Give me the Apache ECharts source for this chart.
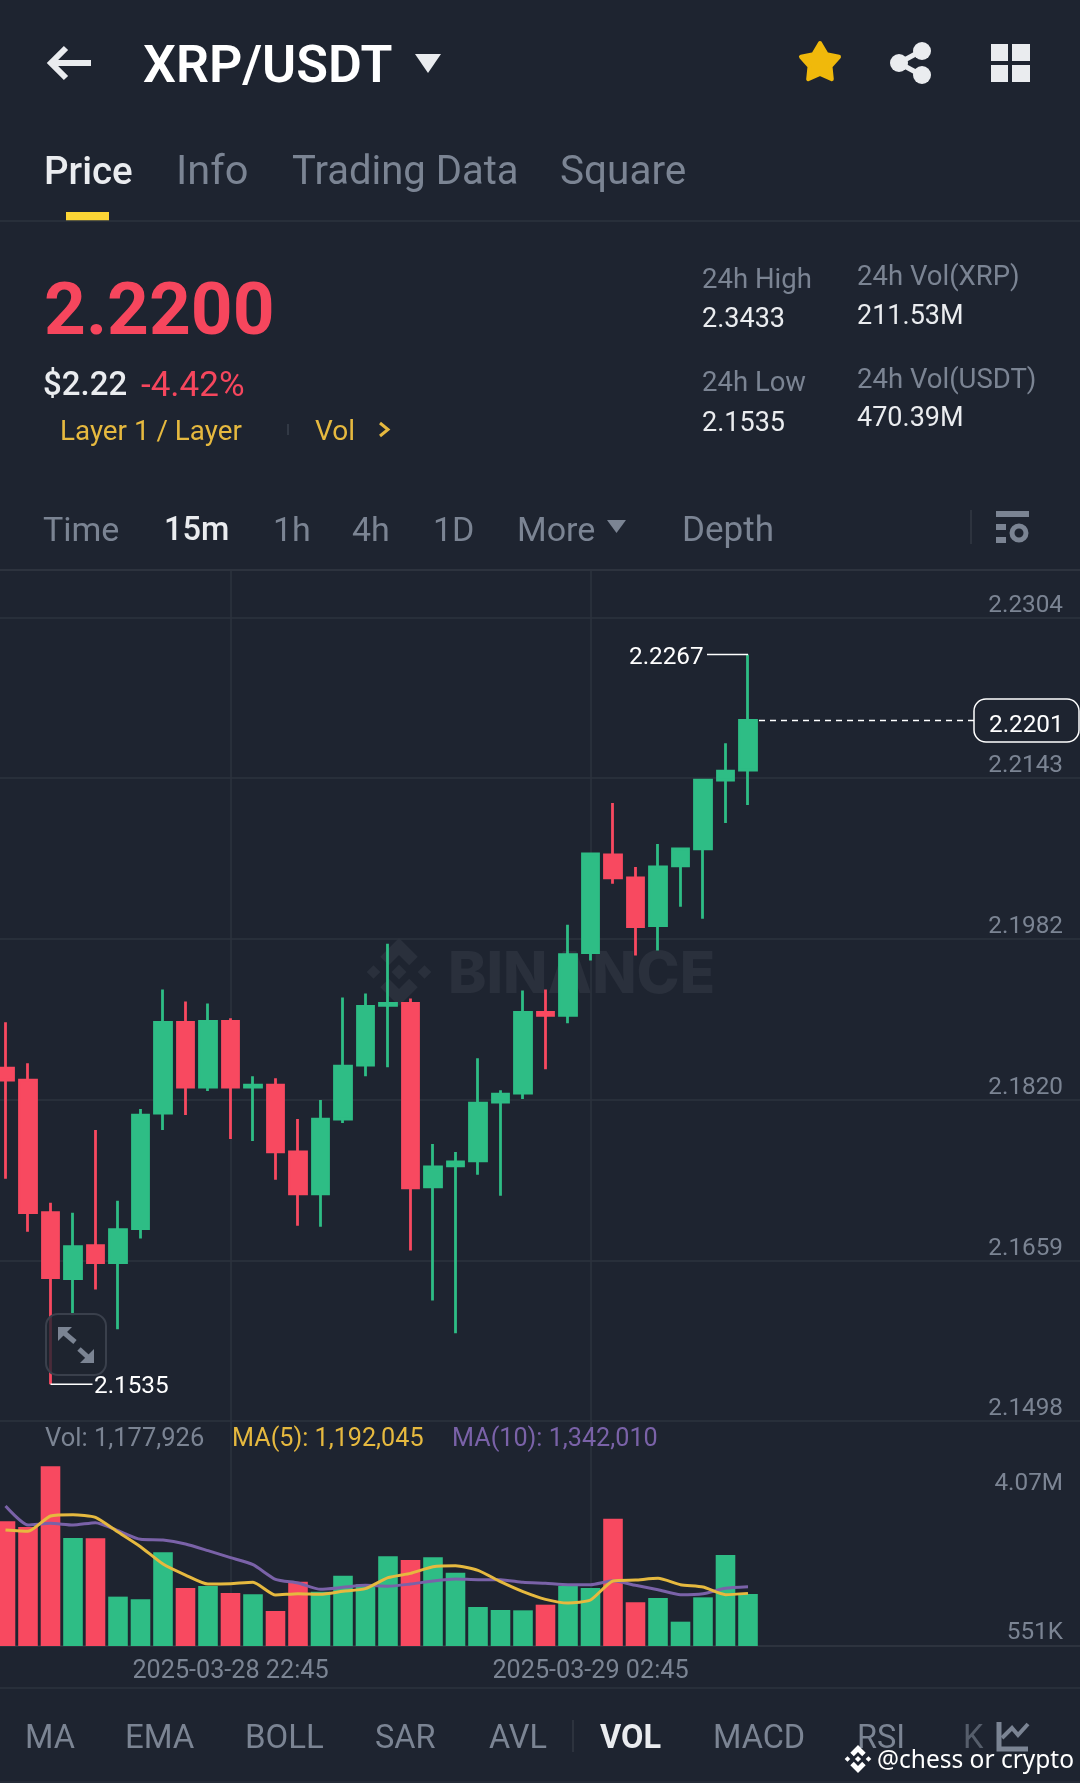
<!DOCTYPE html>
<html>
<head>
<meta charset="utf-8">
<title>XRP/USDT</title>
<script src="https://cdn.jsdelivr.net/npm/echarts@6/dist/echarts.min.js"></script>
<style>
    html, body { margin: 0; padding: 0; background: #1e2430; }
    #main { width: 1080px; height: 1783px; }
</style>
</head>
<body>
<div id="main"></div>
<script>
const times = [
    '2025-03-28 20:15', '2025-03-28 20:30', '2025-03-28 20:45', '2025-03-28 21:00', '2025-03-28 21:15',
    '2025-03-28 21:30', '2025-03-28 21:45', '2025-03-28 22:00', '2025-03-28 22:15', '2025-03-28 22:30',
    '2025-03-28 22:45', '2025-03-28 23:00', '2025-03-28 23:15', '2025-03-28 23:30', '2025-03-28 23:45',
    '2025-03-29 00:00', '2025-03-29 00:15', '2025-03-29 00:30', '2025-03-29 00:45', '2025-03-29 01:00',
    '2025-03-29 01:15', '2025-03-29 01:30', '2025-03-29 01:45', '2025-03-29 02:00', '2025-03-29 02:15',
    '2025-03-29 02:30', '2025-03-29 02:45', '2025-03-29 03:00', '2025-03-29 03:15', '2025-03-29 03:30',
    '2025-03-29 03:45', '2025-03-29 04:00', '2025-03-29 04:15', '2025-03-29 04:30'
];
const opens = [2.1852, 2.1840, 2.1707, 2.1641, 2.1674, 2.1657, 2.1691, 2.1807, 2.1898, 2.1833, 2.1899, 2.1833,
    2.1835, 2.1768, 2.1726, 2.1801, 2.1855, 2.1915, 2.1917, 2.1733, 2.1754, 2.1759, 2.1818, 2.1827,
    2.1908, 2.1905, 2.1968, 2.2066, 2.2043, 2.1995, 2.2055, 2.2072, 2.2141, 2.2151];
const closes = [2.1840, 2.1707, 2.1642, 2.1673, 2.1657, 2.1690, 2.1805, 2.1898, 2.1833, 2.1899, 2.1833, 2.1835,
    2.1768, 2.1726, 2.1801, 2.1854, 2.1914, 2.1917, 2.1732, 2.1753, 2.1758, 2.1817, 2.1826, 2.1908,
    2.1905, 2.1966, 2.2067, 2.2043, 2.1994, 2.2054, 2.2072, 2.2141, 2.2150, 2.2201];
const lows = [2.1741, 2.1688, 2.1535, 2.1604, 2.1630, 2.1590, 2.1681, 2.1790, 2.1805, 2.1829, 2.1781, 2.1779,
    2.1740, 2.1694, 2.1693, 2.1797, 2.1844, 2.1853, 2.1669, 2.1619, 2.1586, 2.1745, 2.1724, 2.1821,
    2.1851, 2.1897, 2.1960, 2.2037, 2.1965, 2.1970, 2.2014, 2.2002, 2.2098, 2.2116];
const highs = [2.1898, 2.1857, 2.1717, 2.1707, 2.1790, 2.1719, 2.1811, 2.1931, 2.1919, 2.1917, 2.1902, 2.1844,
    2.1842, 2.1801, 2.1820, 2.1923, 2.1927, 2.1977, 2.1922, 2.1776, 2.1768, 2.1862, 2.1830, 2.1930,
    2.1931, 2.1996, 2.2068, 2.2118, 2.2054, 2.2077, 2.2073, 2.2141, 2.2178, 2.2267];
const vols = [2824000, 2696000, 4070000, 2446000, 2439000, 1118000, 1057000, 2122000, 1314000, 1359000, 1201000, 1170000,
    793000, 1457000, 1231000, 1593000, 1397000, 2031000, 1948000, 2009000, 1661000, 883000, 815000, 808000,
    936000, 1359000, 1314000, 2884000, 989000, 1087000, 551000, 1102000, 2061000, 1177926];
const ma5 = [2628000, 2597000, 2945000, 2975000, 2915000, 2582000, 2250000, 1857000, 1608000, 1404000, 1412000, 1442000,
    1155000, 1185000, 1170000, 1238000, 1299000, 1548000, 1646000, 1797000, 1820000, 1714000, 1457000, 1231000,
    1057000, 974000, 1042000, 1472000, 1495000, 1533000, 1389000, 1336000, 1163000, 1192045];
const ma10 = [3171000, 2741000, 2779000, 2741000, 2794000, 2613000, 2416000, 2401000, 2311000, 2160000, 2001000, 1842000,
    1510000, 1427000, 1284000, 1329000, 1374000, 1352000, 1404000, 1472000, 1518000, 1503000, 1503000, 1442000,
    1420000, 1389000, 1389000, 1480000, 1374000, 1276000, 1163000, 1185000, 1306000, 1342010];
const priceTicks = [2.1498, 2.1659, 2.1820, 2.1982, 2.2143, 2.2304];
const volTicks = [551000, 4070000];
const volTickLabels = ['551K', '4.07M'];
const labelledCandles = [10, 26];

const BG = '#1e2430';
const UP = '#2ebd85';
const DOWN = '#f84960';
const LINE = '#2d333e';
const GRAY = '#7b8493';
const WHITE = '#eaecef';
const YELLOW = '#e6b93f';
const PURPLE = '#7a62a8';
const FONT = 'Roboto';

// 48 candles fit the screen, one extra band pushes the axis off the right edge
const categories = times.concat(new Array(15).fill(''));
const candles = opens.map((o, i) => [o, closes[i], lows[i], highs[i]]);
const volBars = vols.map((v, i) => ({
    value: v,
    itemStyle: { color: closes[i] >= opens[i] ? UP : DOWN }
}));

function txt(x, y, text, size, color, weight, align, family) {
    return {
        type: 'text', x: x, y: y + 3, silent: true, z: 20,
        style: {
            text: text, fontSize: size, fontWeight: weight || 400, fill: color,
            fontFamily: family || FONT, align: align || 'left', verticalAlign: 'middle'
        }
    };
}
function box(x, y, w, h, color) {
    return { type: 'rect', silent: true, z: 20, shape: { x: x, y: y, width: w, height: h }, style: { fill: color } };
}
function seg(x1, y1, x2, y2, color, width, dash) {
    return {
        type: 'line', silent: true, z: 20, shape: { x1: x1, y1: y1, x2: x2, y2: y2 },
        style: { stroke: color, lineWidth: width || 1.5, lineDash: dash || null }
    };
}
function poly(points, color, z) {
    return { type: 'polygon', silent: true, z: z || 20, shape: { points: points }, style: { fill: color } };
}
function logo(cx, cy, r, color, z) {
    const shapes = [
        [[0, -0.22], [0.22, 0], [0, 0.22], [-0.22, 0]],
        [[-0.75, -0.2], [-0.55, 0], [-0.75, 0.2], [-0.95, 0]],
        [[0.75, -0.2], [0.95, 0], [0.75, 0.2], [0.55, 0]],
        [[0, -1], [0.55, -0.45], [0.3, -0.2], [0, -0.5], [-0.3, -0.2], [-0.55, -0.45]],
        [[0, 1], [0.55, 0.45], [0.3, 0.2], [0, 0.5], [-0.3, 0.2], [-0.55, 0.45]]
    ];
    return shapes.map(s => poly(s.map(p => [cx + p[0] * r, cy + p[1] * r]), color, z));
}

let myChart = echarts.init(document.getElementById('main'));
myChart.setOption({
    animation: false,
    backgroundColor: BG,
    grid: [
        { left: -5.75, top: 570, width: 1102.5, height: 851, outerBoundsMode: 'none' },
        { left: -5.75, top: 1421, width: 1102.5, height: 225, outerBoundsMode: 'none' }
    ],
    xAxis: [
        {
            type: 'category', gridIndex: 0, data: categories,
            axisLine: { show: false }, axisTick: { show: false }, axisLabel: { show: false },
            splitLine: {
                show: true, alignWithLabel: true,
                interval: (i) => labelledCandles.includes(i),
                lineStyle: { color: LINE, width: 1.5 }
            }
        },
        {
            type: 'category', gridIndex: 1, data: categories,
            axisLine: { show: true, lineStyle: { color: LINE, width: 2 } },
            axisTick: { show: false },
            axisLabel: {
                interval: (i) => labelledCandles.includes(i),
                color: GRAY, fontFamily: FONT, fontSize: 25.2, margin: 13
            },
            splitLine: {
                show: true, alignWithLabel: true,
                interval: (i) => labelledCandles.includes(i),
                lineStyle: { color: LINE, width: 1.5 }
            }
        }
    ],
    yAxis: [
        {
            type: 'value', gridIndex: 0, position: 'right', scale: true,
            min: 2.1498, max: 2.23519,
            axisLine: { show: false },
            axisTick: { show: false, customValues: priceTicks },
            axisLabel: {
                inside: true, margin: 33.75, customValues: priceTicks,
                color: GRAY, fontFamily: FONT, fontSize: 24.3, lineHeight: 24,
                verticalAlign: 'bottom', align: 'right',
                formatter: (v) => v.toFixed(4)
            },
            splitLine: { show: true, lineStyle: { color: LINE, width: 1.5 } }
        },
        {
            type: 'value', gridIndex: 1, position: 'right',
            min: 0, max: 5096700,
            axisLine: { show: false },
            axisTick: { show: false },
            splitLine: { show: false },
            axisLabel: {
                inside: true, margin: 33.75, customValues: volTicks,
                color: GRAY, fontFamily: FONT, fontSize: 24.3,
                verticalAlign: 'top', align: 'right',
                formatter: (v) => (v === volTicks[0] ? '{lo|' : '{hi|') + volTickLabels[volTicks.indexOf(v)] + '}',
                rich: {
                    lo: { color: GRAY, fontFamily: FONT, fontSize: 24.3, lineHeight: 22 },
                    hi: { color: GRAY, fontFamily: FONT, fontSize: 24.3, lineHeight: 36 }
                }
            }
        }
    ],
    series: [
        {
            name: 'Price', type: 'candlestick', xAxisIndex: 0, yAxisIndex: 0,
            data: candles, barWidth: 17,
            itemStyle: { color: UP, color0: DOWN, borderColor: UP, borderColor0: DOWN, borderWidth: 2.8 }
        },
        {
            name: 'Vol', type: 'bar', xAxisIndex: 1, yAxisIndex: 1,
            data: volBars, barWidth: 19.6
        },
        {
            name: 'MA(5)', type: 'line', xAxisIndex: 1, yAxisIndex: 1, z: 4,
            data: ma5, smooth: 0.2, showSymbol: false, lineStyle: { color: YELLOW, width: 3 }
        },
        {
            name: 'MA(10)', type: 'line', xAxisIndex: 1, yAxisIndex: 1, z: 3,
            data: ma10, smooth: 0.2, showSymbol: false, lineStyle: { color: PURPLE, width: 3 }
        }
    ]
});

// callouts hang off the high, low and last candle, so they come after the scales exist
const last = times.length - 1;
const lowIdx = lows.indexOf(Math.min.apply(null, lows));
const highIdx = highs.indexOf(Math.max.apply(null, highs));
const lowPt = myChart.convertToPixel({ xAxisIndex: 0, yAxisIndex: 0 }, [lowIdx, lows[lowIdx]]);
const highPt = myChart.convertToPixel({ xAxisIndex: 0, yAxisIndex: 0 }, [highIdx, highs[highIdx]]);
const lastPt = myChart.convertToPixel({ xAxisIndex: 0, yAxisIndex: 0 }, [last, closes[last]]);

const chrome = [
    // watermark
    txt(448, 973, 'BINANCE', 58, '#2a303c', 800, 'left', 'Inter'),
    seg(52, 63, 91, 63, WHITE, 6),
    { type: 'polyline', silent: true, z: 20, shape: { points: [[66, 48], [51, 63], [66, 78]] }, style: { stroke: WHITE, lineWidth: 6, fill: null } },
    txt(143, 66, 'XRP/USDT', 52, '#ffffff', 600),
    poly([[415, 54], [441, 54], [428, 73]], WHITE),
    // star, share, grid icons
    {
        type: 'polygon', silent: true, z: 20,
        shape: { points: [[820, 43], [826.5, 54.1], [839, 56.8], [830.5, 66.4], [831.8, 79.2], [820, 74], [808.2, 79.2], [809.5, 66.4], [801, 56.8], [813.5, 54.1]] },
        style: { fill: '#f0b90b', stroke: '#f0b90b', lineWidth: 4, lineJoin: 'round' }
    },
    seg(921, 51, 899, 63, WHITE, 5), seg(899, 63, 921, 75, WHITE, 5),
    { type: 'circle', silent: true, z: 20, shape: { cx: 922, cy: 51, r: 9 }, style: { fill: WHITE } },
    { type: 'circle', silent: true, z: 20, shape: { cx: 899, cy: 63, r: 9 }, style: { fill: WHITE } },
    { type: 'circle', silent: true, z: 20, shape: { cx: 922, cy: 75, r: 9 }, style: { fill: WHITE } },
    box(991, 44, 17, 17, WHITE), box(1012, 44, 18, 17, WHITE), box(991, 65, 17, 17, WHITE), box(1012, 65, 18, 17, WHITE),
    // tabs
    txt(44, 171, 'Price', 38.5, WHITE, 500),
    txt(176, 171, 'Info', 41.5, GRAY, 400),
    txt(292, 171, 'Trading Data', 40, GRAY, 400),
    txt(560, 171, 'Square', 40.5, GRAY, 400),
    box(66, 212, 43, 9, '#fcd535'),
    seg(0, 221, 1080, 221, LINE, 1.5),
    // ticker
    txt(44, 313, '2.2200', 73, '#f6465d', 700),
    txt(43, 384, '$2.22', 33, WHITE, 500),
    txt(141, 384, '-4.42%', 35, '#f6465d', 400),
    txt(60, 430, 'Layer 1 / Layer', 27.8, YELLOW),
    seg(288, 424, 288, 435, '#3a404c', 1.5),
    txt(315, 430, 'Vol', 28, YELLOW),
    { type: 'polyline', silent: true, z: 20, shape: { points: [[380, 423], [388, 429.5], [380, 436]] }, style: { stroke: YELLOW, lineWidth: 3, fill: null } },
    txt(702, 278, '24h High', 27.5, GRAY),
    txt(702, 317, '2.3433', 27, WHITE),
    txt(702, 381, '24h Low', 27.5, GRAY),
    txt(702, 421, '2.1535', 27, WHITE),
    txt(857, 275, '24h Vol(XRP)', 27.5, GRAY),
    txt(857, 314, '211.53M', 27, WHITE),
    txt(857, 378, '24h Vol(USDT)', 27.5, GRAY),
    txt(857, 416, '470.39M', 27, WHITE),
    // interval row
    txt(43, 529, 'Time', 34, GRAY),
    txt(164, 529, '15m', 32.5, WHITE, 500),
    txt(273, 529, '1h', 34, GRAY),
    txt(352, 529, '4h', 34, GRAY),
    txt(433, 529, '1D', 34, GRAY),
    txt(517, 529, 'More', 34, GRAY),
    poly([[607, 520], [626, 520], [616.5, 533]], GRAY),
    txt(682, 529, 'Depth', 35, GRAY),
    seg(971, 510, 971, 544, LINE, 2),
    box(996, 511, 33, 6, GRAY), box(996, 524, 10, 6, GRAY), box(996, 537, 10, 6, GRAY),
    { type: 'circle', silent: true, z: 20, shape: { cx: 1019, cy: 533, r: 7 }, style: { fill: null, stroke: GRAY, lineWidth: 5 } },
    seg(0, 570, 1080, 570, LINE, 2),
    // legend of the volume panel
    txt(45, 1437, 'Vol: 1,177,926', 25.5, GRAY),
    txt(232, 1437, 'MA(5): 1,192,045', 25.2, YELLOW),
    txt(452, 1437, 'MA(10): 1,342,010', 25.2, PURPLE),
    // expand button over the low wick
    { type: 'rect', silent: true, z: 15, shape: { x: 46, y: 1314, width: 60, height: 61, r: 12 }, style: { fill: 'rgba(30,36,48,0.8)', stroke: '#3a404c', lineWidth: 2 } },
    poly([[58, 1341], [58, 1327], [72, 1327]], GRAY), seg(62, 1331, 75, 1342, GRAY, 5),
    poly([[94, 1349], [94, 1363], [80, 1363]], GRAY), seg(90, 1359, 79, 1349, GRAY, 5),
    // indicator row
    seg(0, 1688, 1080, 1688, LINE, 1.5),
    txt(25, 1737, 'MA', 32.5, GRAY),
    txt(125, 1737, 'EMA', 33, GRAY),
    txt(245, 1737, 'BOLL', 33, GRAY),
    txt(375, 1737, 'SAR', 32.5, GRAY),
    txt(489, 1737, 'AVL', 32.5, GRAY),
    seg(573, 1720, 573, 1752, LINE, 2),
    txt(600, 1737, 'VOL', 32.5, WHITE, 700),
    txt(713, 1737, 'MACD', 32.5, GRAY),
    txt(857, 1737, 'RSI', 32.5, GRAY),
    txt(963, 1737, 'K', 32.5, '#565e6b'),
    { type: 'polyline', silent: true, z: 21, shape: { points: [[999, 1722], [999, 1749], [1028, 1749]] }, style: { stroke: GRAY, lineWidth: 5, fill: null } },
    { type: 'polyline', silent: true, z: 21, shape: { points: [[1002, 1738], [1012, 1728], [1018, 1735], [1028, 1724]] }, style: { stroke: GRAY, lineWidth: 4, fill: null } },
    seg(0, 1782, 1080, 1782, LINE, 1),
    txt(877, 1758, '@chess or crypto', 24.5, '#ffffff', 400, 'left', 'Noto Sans')
];
const callouts = [
    seg(lowPt[0], lowPt[1], lowPt[0] + 42, lowPt[1], '#ffffff', 1.5),
    txt(94, lowPt[1], lows[lowIdx].toFixed(4), 24.3, '#ffffff'),
    seg(highPt[0] - 41, highPt[1], highPt[0], highPt[1], '#ffffff', 1.5),
    txt(629, highPt[1], highs[highIdx].toFixed(4), 24.3, '#ffffff'),
    seg(lastPt[0] + 11, lastPt[1], 974, lastPt[1], '#ffffff', 1.5, [6, 5]),
    { type: 'rect', silent: true, z: 20, shape: { x: 974, y: 699, width: 105, height: 43, r: 12 }, style: { fill: BG, stroke: '#ffffff', lineWidth: 1.5 } },
    txt(989, lastPt[1] + 3, closes[last].toFixed(4), 24.3, '#ffffff')
];
const marks = logo(399, 972, 34, '#2a303c', -1).concat(logo(858, 1759, 14, '#ffffff', 21));
chrome[0].z = -1;

myChart.setOption({ graphic: { elements: marks.concat(chrome, callouts) } });
</script>
</body>
</html>
